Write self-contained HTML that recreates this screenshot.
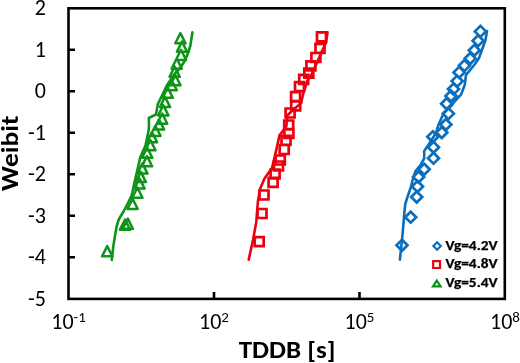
<!DOCTYPE html>
<html><head><meta charset="utf-8"><style>
html,body{margin:0;padding:0;background:#fff;width:520px;height:363px;overflow:hidden}
svg{display:block}
text{font-family:"Carlito","Liberation Sans",sans-serif;fill:#000}
.tl{font-size:22px}
.sup{font-size:15px}
.ttl{font-size:24.5px;font-weight:bold}
.lg{font-size:13px;font-weight:bold;stroke:#000;stroke-width:0.25px}
</style></head><body>
<svg width="520" height="363" viewBox="0 0 520 363">
<rect x="0" y="0" width="520" height="363" fill="#fff"/>
<!-- y tick labels -->
<g class="tl" text-anchor="end">
<text x="46" y="15.3">2</text>
<text x="46" y="56.8">1</text>
<text x="46" y="98.3">0</text>
<text x="46" y="139.8">-1</text>
<text x="46" y="181.3">-2</text>
<text x="46" y="222.8">-3</text>
<text x="46" y="264.3">-4</text>
<text x="46" y="305.8">-5</text>
</g>
<!-- x tick labels -->
<text class="tl" x="68.5" y="328.9" text-anchor="middle">10<tspan class="sup" dy="-7.2">-1</tspan></text>
<text class="tl" x="214" y="328.9" text-anchor="middle">10<tspan class="sup" dy="-7.2">2</tspan></text>
<text class="tl" x="359.5" y="328.9" text-anchor="middle">10<tspan class="sup" dy="-7.2">5</tspan></text>
<text class="tl" x="505" y="328.9" text-anchor="middle">10<tspan class="sup" dy="-7.2">8</tspan></text>
<!-- axis titles -->
<text class="ttl" x="238.8" y="357.6" textLength="96.6" lengthAdjust="spacingAndGlyphs">TDDB [s]</text>
<text class="ttl" transform="translate(18.2,191) rotate(-90)" x="0" y="0" textLength="75.5" lengthAdjust="spacingAndGlyphs">Weibit</text>
<polyline points="487.0,31.0 485.5,40.0 483.0,47.0 479.0,58.0 475.0,64.0 466.0,75.0 464.7,85.0 461.0,94.7 455.0,101.0 452.0,105.0 443.5,113.6 438.5,124.7 436.0,133.0 428.5,144.8 424.2,151.0 424.2,158.5 420.7,164.7 415.4,171.4 412.5,180.4 410.8,187.5 407.4,197.2 405.3,204.0 404.6,210.0 402.5,235.0 399.9,259.7" fill="none" stroke="#0A6EBD" stroke-width="2.6" stroke-linejoin="round" stroke-linecap="round"/>
<path d="M480.4 25.9L485.9 31.4L480.4 36.9L474.9 31.4Z M478.1 35.2L483.6 40.7L478.1 46.2L472.6 40.7Z M474.3 44.8L479.8 50.3L474.3 55.8L468.8 50.3Z M470.2 53.0L475.7 58.5L470.2 64.0L464.7 58.5Z M464.4 60.1L469.9 65.6L464.4 71.1L458.9 65.6Z M459.1 66.9L464.6 72.4L459.1 77.9L453.6 72.4Z M457.2 75.6L462.7 81.1L457.2 86.6L451.7 81.1Z M453.5 83.6L459.0 89.1L453.5 94.6L448.0 89.1Z M451.0 90.5L456.5 96.0L451.0 101.5L445.5 96.0Z M446.6 98.2L452.1 103.7L446.6 109.2L441.1 103.7Z M448.4 108.1L453.9 113.6L448.4 119.1L442.9 113.6Z M445.9 119.0L451.4 124.5L445.9 130.0L440.4 124.5Z M441.8 127.0L447.3 132.5L441.8 138.0L436.3 132.5Z M432.8 131.3L438.3 136.8L432.8 142.3L427.3 136.8Z M433.5 141.8L439.0 147.3L433.5 152.8L428.0 147.3Z M433.5 152.7L439.0 158.2L433.5 163.7L428.0 158.2Z M424.2 163.8L429.7 169.3L424.2 174.8L418.7 169.3Z M418.6 171.5L424.1 177.0L418.6 182.5L413.1 177.0Z M417.5 181.0L423.0 186.5L417.5 192.0L412.0 186.5Z M416.7 191.5L422.2 197.0L416.7 202.5L411.2 197.0Z M410.7 211.7L416.2 217.2L410.7 222.7L405.2 217.2Z M402.0 239.8L407.5 245.3L402.0 250.8L396.5 245.3Z" fill="none" stroke="#0A6EBD" stroke-width="2.7" stroke-linejoin="miter"/>
<polyline points="327.5,32.3 326.0,42.7 321.5,52.0 317.5,61.4 311.8,73.9 307.5,80.5 303.1,94.1 301.2,103.0 293.0,110.0 287.5,115.3 286.3,126.5 279.5,135.4 275.4,153.7 272.0,168.0 264.5,178.5 260.0,189.0 258.0,200.9 257.2,210.0 256.3,222.0 253.0,240.0 248.7,259.7" fill="none" stroke="#EC0010" stroke-width="2.6" stroke-linejoin="round" stroke-linecap="round"/>
<path d="M317.0 32.4h9.0v9.0h-9.0Z M315.5 43.8h9.0v9.0h-9.0Z M311.4 53.0h9.0v9.0h-9.0Z M306.4 61.4h9.0v9.0h-9.0Z M304.3 68.7h9.0v9.0h-9.0Z M299.2 74.8h9.0v9.0h-9.0Z M295.0 82.1h9.0v9.0h-9.0Z M291.1 92.2h9.0v9.0h-9.0Z M291.2 101.3h9.0v9.0h-9.0Z M285.6 108.5h9.0v9.0h-9.0Z M284.2 120.5h9.0v9.0h-9.0Z M284.4 129.0h9.0v9.0h-9.0Z M281.5 135.8h9.0v9.0h-9.0Z M279.7 145.0h9.0v9.0h-9.0Z M275.8 155.5h9.0v9.0h-9.0Z M274.0 161.5h9.0v9.0h-9.0Z M270.6 169.5h9.0v9.0h-9.0Z M268.6 177.9h9.0v9.0h-9.0Z M259.5 190.5h9.0v9.0h-9.0Z M257.5 209.0h9.0v9.0h-9.0Z M254.7 237.2h9.0v9.0h-9.0Z" fill="none" stroke="#EC0010" stroke-width="2.7" stroke-linejoin="miter"/>
<polyline points="192.4,32.4 190.3,46.0 188.3,52.5 184.7,61.0 180.5,67.5 174.8,73.6 166.8,85.5 162.3,95.0 157.8,104.1 156.0,114.5 148.8,118.0 149.0,125.0 148.5,131.0 145.5,145.4 140.2,157.6 138.3,166.0 134.5,182.6 131.8,195.0 127.5,204.0 123.5,211.5 119.0,219.0 117.0,225.0 115.6,232.0 113.5,245.0 111.8,260.0" fill="none" stroke="#0E9418" stroke-width="2.6" stroke-linejoin="round" stroke-linecap="round"/>
<path d="M180.4 33.1L185.5 43.3L175.3 43.3Z M182.0 41.6L187.1 51.8L176.9 51.8Z M181.0 49.8L186.1 60.0L175.9 60.0Z M176.7 58.5L181.8 68.7L171.6 68.7Z M174.7 66.6L179.8 76.8L169.6 76.8Z M175.4 75.1L180.5 85.3L170.3 85.3Z M171.7 80.1L176.8 90.3L166.6 90.3Z M167.7 87.6L172.8 97.8L162.6 97.8Z M165.0 96.9L170.1 107.1L159.9 107.1Z M163.3 105.2L168.4 115.4L158.2 115.4Z M162.2 113.5L167.3 123.7L157.1 123.7Z M159.0 119.4L164.1 129.6L153.9 129.6Z M155.4 125.7L160.5 135.9L150.3 135.9Z M152.0 132.1L157.1 142.3L146.9 142.3Z M150.4 140.1L155.5 150.3L145.3 150.3Z M147.2 147.6L152.3 157.8L142.1 157.8Z M147.0 156.1L152.1 166.3L141.9 166.3Z M142.4 163.4L147.5 173.6L137.3 173.6Z M140.8 171.9L145.9 182.1L135.7 182.1Z M139.5 178.4L144.6 188.6L134.4 188.6Z M137.4 187.5L142.5 197.7L132.3 197.7Z M132.6 198.8L137.7 209.0L127.5 209.0Z M127.8 218.6L132.9 228.8L122.7 228.8Z M125.0 219.6L130.1 229.8L119.9 229.8Z M107.2 246.1L112.3 256.3L102.1 256.3Z" fill="none" stroke="#0E9418" stroke-width="2.5" stroke-linejoin="round"/>

<!-- frame -->
<rect x="68.5" y="8.3" width="436.3" height="290.6" fill="none" stroke="#000" stroke-width="2.6"/>
<g stroke="#000" stroke-width="2.6">
<path d="M68.5 49.8h6.5M68.5 91.3h6.5M68.5 132.8h6.5M68.5 174.3h6.5M68.5 215.8h6.5M68.5 257.3h6.5"/>
<path d="M214 298.9v-7M359.5 298.9v-7"/>
</g>
<!-- legend -->
<path d="M437.1 242.3L440.8 246.0L437.1 249.7L433.4 246.0Z" fill="none" stroke="#0A6EBD" stroke-width="2.2"/>
<path d="M433.2 261.2h6.8v6.8h-6.8Z" fill="none" stroke="#EC0010" stroke-width="2.2"/>
<path d="M436.8 280.6L440.6 286.4L433 286.4Z" fill="none" stroke="#0E9418" stroke-width="2.2"/>

<g class="lg">
<text x="445.6" y="250.2" textLength="52" lengthAdjust="spacingAndGlyphs">Vg=4.2V</text>
<text x="445.6" y="268.4" textLength="52" lengthAdjust="spacingAndGlyphs">Vg=4.8V</text>
<text x="445.6" y="286.6" textLength="52" lengthAdjust="spacingAndGlyphs">Vg=5.4V</text>
</g>
</svg>
</body></html>
